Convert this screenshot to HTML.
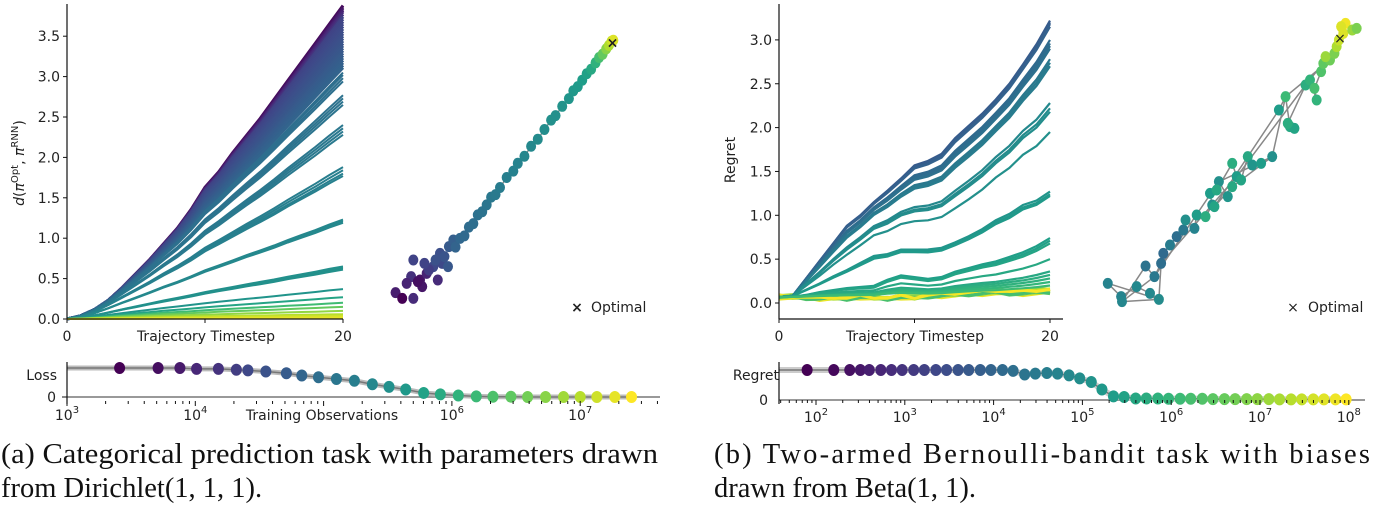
<!DOCTYPE html>
<html><head><meta charset="utf-8">
<style>
html,body{margin:0;padding:0;background:#fff;}
svg{display:block;}
.tk{font-family:"DejaVu Sans","Liberation Sans",sans-serif;font-size:14px;fill:#222;}
.cap{font-family:"Liberation Serif",serif;font-size:28.5px;fill:#111;}
</style></head>
<body>
<svg id="fig" width="1379" height="507" viewBox="0 0 1379 507" xmlns="http://www.w3.org/2000/svg">
<g id="gA"></g>
<g id="gB"></g>
<text class="cap" x="1" y="463" textLength="657" lengthAdjust="spacingAndGlyphs">(a) Categorical prediction task with parameters drawn</text>
<text class="cap" x="1" y="497">from Dirichlet(1, 1, 1).</text>
<text class="cap" x="714" y="463" textLength="656" lengthAdjust="spacing">(b) Two-armed Bernoulli-bandit task with biases</text>
<text class="cap" x="714" y="497">drawn from Beta(1, 1).</text>
</svg>
<script>
// ---------- DATA ----------
const timesteps = [0,1,2,3,4,5,6,7,8,9,10,11,12,13,14,15,16,17,18,19,20];
const aConvexProfile = [0,.01,.03,.06,.1,.145,.19,.24,.29,.35,.42,.47,.53,.585,.64,.7,.76,.82,.88,.94,1];
const aLinearProfile = [0,.03,.09,.16,.23,.29,.35,.41,.46,.51,.56,.61,.65,.7,.74,.78,.83,.87,.91,.96,1];
const aFinalValues = [3.88,3.86,3.84,3.82,3.8,3.77,3.74,3.71,3.68,3.65,3.62,3.59,3.56,3.53,3.5,3.47,3.44,3.41,3.38,3.35,3.32,3.29,3.26,3.23,3.2,3.17,3.14,3.11,
  3.05,3.02,2.98,2.94,2.77,2.73,2.69,2.65,2.4,2.36,2.32,2.28,1.88,1.84,1.8,1.77,1.23,1.21,1.19,0.65,0.63,0.61,0.37,0.27,0.2,0.15,0.1,0.06,0.04,0.03,0.02,0.015,0.01];
const aYTicks = [0,0.5,1,1.5,2,2.5,3,3.5];
const aYTickLabels = ["0.0","0.5","1.0","1.5","2.0","2.5","3.0","3.5"];
const aClusterX = [890,905,930,930,945,925,960,985,975,950,940,995,1008,990,1010,1020,1000,915,965,980,955];
const aClusterY = [878,895,895,780,840,830,820,840,800,860,845,790,800,760,740,720,770,850,810,780,790];
const aClusterC = [.08,.0,.12,.2,.05,.14,.1,.12,.22,.06,.04,.22,.27,.24,.28,.3,.26,.1,.18,.25,.2];
const aLineX = [1025,1035,1045,1055,1065,1075,1085,1095,1105,1115,1125,1140,1155,1165,1180,1195,1210,1225,1240,1250,1265,1280,1290,1300,1310,1320,1330,1340,1348,1356,1364,1370,1376,1380];
const aLineOff = [5,-4,6,-3,4,-5,3,0,-6,4,0,-4,3,-3,2,-2,3,0,-2,2,0,3,-3,2,0,-2,2,0,-2,2,0,0,-2,2];
const aLineC = [.32,.33,.34,.35,.36,.37,.38,.39,.4,.41,.42,.43,.44,.45,.46,.47,.48,.49,.5,.5,.51,.52,.53,.54,.55,.57,.6,.64,.7,.76,.82,.88,.92,.95];
const lossLogX = [3.41,3.71,3.88,4.01,4.18,4.32,4.41,4.55,4.71,4.83,4.96,5.10,5.24,5.38,5.51,5.64,5.78,5.91,6.05,6.19,6.32,6.46,6.59,6.73,6.87,7.0,7.13,7.27,7.40];
const lossVals = [1,1,1,.97,.97,.94,.92,.88,.82,.74,.68,.62,.56,.44,.35,.26,.14,.09,.05,.02,.01,.01,0,0,0,0,0,0,0];
const bTopProfile = [0.07,0.08,0.28,0.48,0.68,0.88,1.0,1.15,1.28,1.42,1.57,1.62,1.7,1.88,2.02,2.16,2.32,2.5,2.72,2.95,3.22];
const bMidProfile = [0.07,0.08,0.15,0.22,0.3,0.37,0.45,0.53,0.55,0.6,0.6,0.6,0.62,0.68,0.75,0.83,0.93,1.0,1.1,1.15,1.25];
const bLowProfile = [0.07,0.07,0.09,0.12,0.14,0.16,0.17,0.18,0.25,0.3,0.28,0.26,0.28,0.34,0.38,0.42,0.45,0.5,0.55,0.62,0.71];
const bNoiseProfile = [0.07,0.07,0.06,0.05,0.06,0.05,0.07,0.06,0.05,0.07,0.06,0.08,0.09,0.1,0.11,0.12,0.13,0.12,0.12,0.13,0.14];
const bFinalValues = [3.22,3.2,3.18,3.15,3.0,2.96,2.93,2.9,2.78,2.74,2.7,2.28,2.22,2.18,1.95,1.27,1.24,1.22,0.74,0.71,0.68,0.5,0.36,0.32,0.28,0.24,0.2];
const bColors = [.28,.29,.3,.31,.34,.35,.36,.37,.4,.41,.42,.47,.48,.49,.5,.52,.53,.54,.56,.57,.58,.6,.6,.62,.64,.66,.68];
const bNoiseScale = [0.9,1.0,1.1,0.8,1.2,0.95,1.05,0.85,1.15,1.0,0.9,1.1];
const bNoiseColors = [.9,.92,.95,.97,.85,.88,.8,.75,.93,.98,.7,.99];
const bYTicks = [0,0.5,1,1.5,2,2.5,3];
const bYTickLabels = ["0.0","0.5","1.0","1.5","2.0","2.5","3.0"];
const bScatX = [940,970,1005,1035,1055,972,1025,1045,1060,1065,1080,1095,1110,1115,1135,1140,1160,1175,1170,1190,1210,1185,1220,1230,1240,1255,1265,1285,1310,1220,1180,1325,1340,1350,1360,1345,1385,1395,1410,1405,1420,1425,1440,1430,1450,1455,1460,1470,1475,1490,1500,1465];
const bScatY = [850,890,860,880,898,905,798,830,790,760,735,710,690,660,685,645,650,615,580,545,590,570,490,530,540,470,495,490,470,560,620,330,290,380,385,370,255,240,300,265,215,190,180,170,160,140,120,100,70,90,85,80];
const bScatC = [.45,.45,.47,.47,.48,.46,.38,.4,.36,.34,.42,.36,.4,.5,.45,.55,.62,.5,.55,.5,.52,.6,.62,.55,.58,.6,.52,.55,.5,.6,.58,.55,.68,.6,.58,.62,.62,.65,.65,.7,.72,.75,.78,.85,.8,.88,.92,.95,.98,.85,.8,.95];
const regretLogX = [1.9,2.2,2.38,2.5,2.6,2.73,2.85,2.97,3.1,3.22,3.35,3.47,3.6,3.72,3.85,3.97,4.1,4.22,4.35,4.47,4.6,4.72,4.85,4.97,5.1,5.22,5.35,5.47,5.6,5.72,5.85,5.97,6.1,6.22,6.35,6.47,6.6,6.72,6.85,6.97,7.1,7.22,7.35,7.47,7.6,7.72,7.85,7.97];
const regretVals = [1,1,1,1,1,1,1,1,1,1,1,1,1,1,1,1,1,.97,.85,.88,.9,.88,.82,.72,.6,.35,.12,.1,.05,.05,.05,.04,.04,.04,.04,.03,.03,.03,.03,.03,.03,.02,.02,.02,.02,.02,.02,.02];

// ---------- HELPERS ----------
const NS="http://www.w3.org/2000/svg";
const VIR=[[68,1,84],[72,40,120],[62,74,137],[49,104,142],[38,130,142],[31,158,137],[53,183,121],[109,205,89],[180,222,44],[253,231,37]];
function vir(t){t=Math.max(0,Math.min(1,t));const s=t*(VIR.length-1),i=Math.min(Math.floor(s),VIR.length-2),f=s-i;
 const c=VIR[i].map((v,k)=>Math.round(v+(VIR[i+1][k]-v)*f));return `rgb(${c[0]},${c[1]},${c[2]})`;}
function el(parent,tag,attrs){const e=document.createElementNS(NS,tag);for(const k in attrs)e.setAttribute(k,attrs[k]);parent.appendChild(e);return e;}
function txt(parent,x,y,s,anchor,cls){const t=el(parent,'text',{x:x,y:y,'text-anchor':anchor||'middle',class:cls||'tk'});t.textContent=s;return t;}
function pow10(parent,x,y,e){const t=el(parent,'text',{x:x,y:y,'text-anchor':'middle',class:'tk'});
 t.textContent='10';const sp=el(t,'tspan',{dy:-7,'font-size':'10'});sp.textContent=String(e);return t;}

// ---------- PANEL A ----------
const gA=document.getElementById('gA');
const axL=67, axR=343, ax0=319, aK=80.8;
const ax=t=>axL+(t/20)*(axR-axL);
const ay=v=>ax0-v*aK;
aFinalValues.forEach((f,i)=>{
  const w=Math.pow(f/3.88,0.6);
  const pts=timesteps.map((t,j)=>ax(t).toFixed(1)+','+ay(f*(w*aConvexProfile[j]+(1-w)*aLinearProfile[j])).toFixed(1)).join(' ');
  let c; if(f>3.1)c=(3.88-f)<0.12?0.02+(3.88-f)*1.2:0.17+(3.88-f)/0.78*0.15; else if(f>0.3)c=0.36+(3.05-f)/2.75*0.16; else c=0.54+(0.3-f)/0.3*0.44;
  const p=el(gA,'polyline',{points:pts,fill:'none',stroke:vir(c),'stroke-width':f>3.1?3:2});
  
  
});
const aAx=el(gA,'g',{});

el(aAx,'line',{x1:axL,y1:4,x2:axL,y2:ax0,stroke:'#111','stroke-width':1.2});
el(aAx,'line',{x1:axL,y1:ax0,x2:axR,y2:ax0,stroke:'#111','stroke-width':1.2});
aYTicks.forEach((v,i)=>{el(aAx,'line',{x1:axL-4,y1:ay(v),x2:axL,y2:ay(v),stroke:'#111'});txt(aAx,axL-7,ay(v)+5,aYTickLabels[i],'end');});
[0,10,20].forEach(t=>el(aAx,'line',{x1:ax(t),y1:ax0,x2:ax(t),y2:ax0+4,stroke:'#111'}));
txt(aAx,ax(0),341,'0');txt(aAx,ax(20),341,'20');
const aXT=txt(aAx,206,341,'Trajectory Timestep');
const aYT=el(aAx,'text',{transform:'translate(24,163) rotate(-90)','text-anchor':'middle',class:'tk','font-size':'16'});

aYT.innerHTML='<tspan font-style="italic">d</tspan>(<tspan font-style="italic">π</tspan><tspan dy="-6" font-size="10">Opt</tspan><tspan dy="6">, </tspan><tspan font-style="italic">π</tspan><tspan dy="-6" font-size="10">RNN</tspan><tspan dy="6">)</tspan>';
const sx=u=>u/2.25, sy=v=>v/3;
const aSc=el(gA,'g',{});
const aLineYs=aLineX.map((x,i)=>780-(x-1000)*1.74+aLineOff[i]);
el(aSc,'polyline',{points:aLineX.map((x,i)=>sx(x)+','+sy(aLineYs[i])).join(' '),fill:'none',stroke:'#888','stroke-width':1.5});
aClusterX.forEach((x,i)=>{const c=el(aSc,'ellipse',{cx:sx(x),cy:sy(aClusterY[i]),rx:5,ry:5.5,fill:vir(aClusterC[i])});
 });
aLineX.forEach((x,i)=>{const c=el(aSc,'ellipse',{cx:sx(x),cy:sy(aLineYs[i]),rx:5,ry:5.5,fill:vir(aLineC[i])});
 });
const aOpt=txt(aSc,sx(1378),sy(122)+7,'×');aOpt.setAttribute('font-size','24');aOpt.setAttribute('font-weight','bold');aOpt.setAttribute('fill','#111');

const aLeg=el(gA,'g',{});
const aLx=txt(aLeg,577,312,'×');aLx.setAttribute('font-size','22');aLx.setAttribute('font-weight','bold');
const aLt=txt(aLeg,591,312,'Optimal','start');aLt.setAttribute('font-size','15');
const lxs=d=>67+(d-3)*128.3, lys=v=>397-v*29;
const lG=el(gA,'g',{});
el(lG,'line',{x1:67,y1:397,x2:660,y2:397,stroke:'#999','stroke-width':2});
const lPts=[[3,1]].concat(lossLogX.map((d,i)=>[d,lossVals[i]])).map(p=>lxs(p[0])+','+lys(p[1])).join(' ');
el(lG,'polyline',{points:lPts,fill:'none',stroke:'#bbb','stroke-width':5});
el(lG,'polyline',{points:lPts,fill:'none',stroke:'#777','stroke-width':1.5});
lossLogX.forEach((d,i)=>{const c=el(lG,'ellipse',{cx:lxs(d),cy:lys(lossVals[i]),rx:5.5,ry:6,fill:vir(i/(lossLogX.length-1))});
 });
el(lG,'line',{x1:67,y1:362,x2:67,y2:404,stroke:'#111','stroke-width':1.2});
el(lG,'line',{x1:62,y1:397,x2:67,y2:397,stroke:'#111'});
txt(lG,56,402,'0','end');txt(lG,57,380,'Loss','end');
for(let d=3;d<=7;d++){for(let m=1;m<10;m++){const x=lxs(d+Math.log10(m));if(x>660)continue;
 el(lG,'line',{x1:x,y1:401,x2:x,y2:m==1?406:404,stroke:'#111'});}}
[3,4,6,7].forEach(d=>pow10(lG,lxs(d),420,d));
txt(lG,322,420,'Training Observations');

// ---------- PANEL B ----------
const gB=document.getElementById('gB');
const bxL=779,bxR=1050,by0=303,bK=87.7,bAxisY=319;
const bx=t=>bxL+(t/20)*(bxR-bxL);
const by=v=>by0-v*bK;
function blend(f,j){
  if(f>=1.25){const w=Math.min(1,(f-1.25)/(3.22-1.25));const a=(bTopProfile[j]-0.07)/3.15,b=(bMidProfile[j]-0.07)/1.18;return 0.07+(f-0.07)*(w*a+(1-w)*b);}
  if(f>=0.7){const w=(f-0.7)/0.55;const a=(bMidProfile[j]-0.07)/1.18,b=(bLowProfile[j]-0.07)/0.64;return 0.07+(f-0.07)*(w*a+(1-w)*b);}
  return 0.07+(f-0.07)*(bLowProfile[j]-0.07)/0.64;}
bNoiseScale.forEach((s,i)=>{
  const pts=timesteps.map((t,j)=>bx(t).toFixed(1)+','+by(bNoiseProfile[j]*s+((i+j)%3-1)*0.012).toFixed(1)).join(' ');
  const p=el(gB,'polyline',{points:pts,fill:'none',stroke:vir(bNoiseColors[i]),'stroke-width':3});
  });
bFinalValues.forEach((f,i)=>{
  const pts=timesteps.map((t,j)=>bx(t).toFixed(1)+','+by(blend(f,j)).toFixed(1)).join(' ');
  const p=el(gB,'polyline',{points:pts,fill:'none',stroke:vir(bColors[i]),'stroke-width':2.2});
  });
const bAx=el(gB,'g',{});
el(bAx,'line',{x1:bxL,y1:4,x2:bxL,y2:bAxisY,stroke:'#111','stroke-width':1.2});
el(bAx,'line',{x1:bxL,y1:bAxisY,x2:1063,y2:bAxisY,stroke:'#111','stroke-width':1.2});
bYTicks.forEach((v,i)=>{el(bAx,'line',{x1:bxL-4,y1:by(v),x2:bxL,y2:by(v),stroke:'#111'});txt(bAx,bxL-7,by(v)+5,bYTickLabels[i],'end');});
[0,10,20].forEach(t=>el(bAx,'line',{x1:bx(t),y1:bAxisY,x2:bx(t),y2:bAxisY+4,stroke:'#111'}));
txt(bAx,bx(0),341,'0');txt(bAx,bx(20),341,'20');
const bXT=txt(bAx,915,341,'Trajectory Timestep');
const bYT=el(bAx,'text',{transform:'translate(735,160) rotate(-90)','text-anchor':'middle',class:'tk','font-size':'15'});bYT.textContent='Regret';

const bsx=u=>690+u/2.25, bsy=v=>v/3;
const bSc=el(gB,'g',{});
el(bSc,'polyline',{points:bScatX.map((x,i)=>bsx(x)+','+bsy(bScatY[i])).join(' '),fill:'none',stroke:'#888','stroke-width':1.5});
el(bSc,'polyline',{points:[[940,850],[1055,898],[1060,790],[1230,530],[1385,255],[1455,140]].map(p=>bsx(p[0])+','+bsy(p[1])).join(' '),fill:'none',stroke:'#888','stroke-width':1.5});
el(bSc,'polyline',{points:[[972,905],[1045,830],[1190,545],[1310,470],[1340,290],[1440,180]].map(p=>bsx(p[0])+','+bsy(p[1])).join(' '),fill:'none',stroke:'#888','stroke-width':1.5});
bScatX.forEach((x,i)=>{const c=el(bSc,'ellipse',{cx:bsx(x),cy:bsy(bScatY[i]),rx:5,ry:5.5,fill:vir(bScatC[i])});
 });
const bOpt=txt(bSc,1340,43,'×');bOpt.setAttribute('font-size','24');bOpt.setAttribute('fill','#7b1a78');

const bLeg=el(gB,'g',{});
const bLx=txt(bLeg,1293,312,'×');bLx.setAttribute('font-size','22');bLx.setAttribute('fill','#7b1a78');
const bLt=txt(bLeg,1308,312,'Optimal','start');bLt.setAttribute('font-size','15');
const rxs=d=>816+(d-2)*88.8, rys=v=>400-v*30;
const rG=el(gB,'g',{});
el(rG,'line',{x1:779,y1:400,x2:1365,y2:400,stroke:'#999','stroke-width':2});
const rPts=[[1.58,1]].concat(regretLogX.map((d,i)=>[d,regretVals[i]]));
el(rG,'polyline',{points:rPts.map(p=>rxs(p[0])+','+rys(p[1])).join(' '),fill:'none',stroke:'#ccc','stroke-width':6});
el(rG,'polyline',{points:rPts.map(p=>rxs(p[0])+','+rys(p[1])).join(' '),fill:'none',stroke:'#777','stroke-width':1.5});
regretLogX.forEach((d,i)=>{const c=el(rG,'ellipse',{cx:rxs(d),cy:rys(regretVals[i]),rx:5.5,ry:6,fill:vir(i/(regretLogX.length-1))});
 });
el(rG,'line',{x1:779,y1:362,x2:779,y2:404,stroke:'#111','stroke-width':1.2});
txt(rG,768,405,'0','end');txt(rG,779,380,'Regret','end');
for(let d=1;d<=8;d++){for(let m=1;m<10;m++){const x=rxs(d+Math.log10(m));if(x<779||x>1370)continue;
 el(rG,'line',{x1:x,y1:400,x2:x,y2:m==1?405:403,stroke:'#111'});}}
[2,3,4,5,6,7,8].forEach(d=>pow10(rG,rxs(d),422,d));
</script>
</body></html>
